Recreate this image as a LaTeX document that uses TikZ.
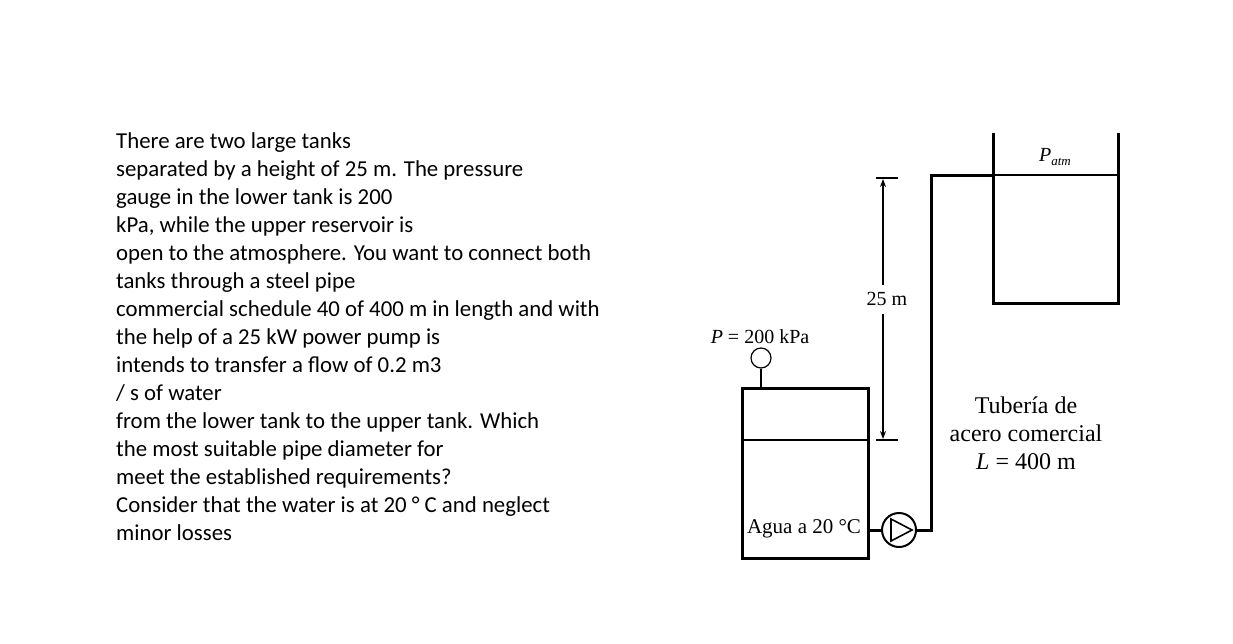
\documentclass[tikz,border=0pt]{standalone}
\usepackage{fontspec}
\setmainfont{Liberation Serif}
\newfontfamily\calib{Carlito}
\usetikzlibrary{arrows.meta}
\begin{document}
\begin{tikzpicture}[x=1pt,y=-1pt,
  wall/.style={line width=3pt},
  thin/.style={line width=1.2pt},
  lbl/.style={font=\fontsize{20}{24}\selectfont,inner sep=0pt}]
\useasboundingbox[fill=white] (0,0) rectangle (1233,643);
\node[anchor=north west,inner sep=0pt,align=left,font=\calib\fontsize{22.8}{28}\selectfont] (txt) at (116,132) {There are two large tanks\\
separated by a height of 25 m. The pressure\\
gauge in the lower tank is 200\\
kPa, while the upper reservoir is\\
open to the atmosphere. You want to connect both\\
tanks through a steel pipe\\
commercial schedule 40 of 400 m in length and with\\
the help of a 25 kW power pump is\\
intends to transfer a flow of 0.2 m3\\
/ s of water\\
from the lower tank to the upper tank. Which\\
the most suitable pipe diameter for\\
meet the established requirements?\\
Consider that the water is at 20 ° C and neglect\\
minor losses};
% upper tank
\draw[wall] (993,133) -- (993,303) -- (1118,303) -- (1118,133);
\draw[thin] (993,175) -- (1118,175);
\node[lbl] (patm) at (1055,157) {\textit{P}\raisebox{-0.35ex}{\fontsize{13}{14}\selectfont\textit{atm}}};
% lower tank
\draw[wall] (742,388) rectangle (868,558);
\draw[thin] (742,440) -- (868,440);
\node[lbl,font=\fontsize{21}{24}\selectfont] (agua) at (804,529) {Agua a 20 °C};
% gauge
\node[draw,circle,thin,minimum size=20pt,inner sep=0pt] (g) at (761,358) {};
\draw[thin] (g.south) -- (761,388);
\node[lbl] (p) at (760,337) {\textit{P} = 200 kPa};
% pump
\node[draw,circle,line width=2pt,minimum size=34pt,inner sep=0pt] (pump) at (899,530) {};
\draw[line width=1.6pt] (891,519) -- (891,541) -- (912,530) -- cycle;
\coordinate (c1) at (931,530);
\coordinate (c2) at (931,175);
\coordinate (c3) at (993,175);
\draw[wall] (868,530) -- (pump.west);
\draw[wall] (pump.east) -- (c1) -- (c2) -- (c3);
% dimension
\draw[thin] (876,178) -- (898,178);
\draw[thin] (876,440) -- (898,440);
\node[lbl] (dim) at (887,299) {25 m};
\draw[thin,-{Stealth[length=8pt,width=6pt]}] (883,285) -- (883,179);
\draw[thin,-{Stealth[length=8pt,width=6pt]}] (883,314) -- (883,439);
\node[lbl,align=center,font=\fontsize{24}{28}\selectfont] (tub) at (1026,433) {Tubería de\\acero comercial\\\textit{L} = 400 m};
\end{tikzpicture}
\end{document}
